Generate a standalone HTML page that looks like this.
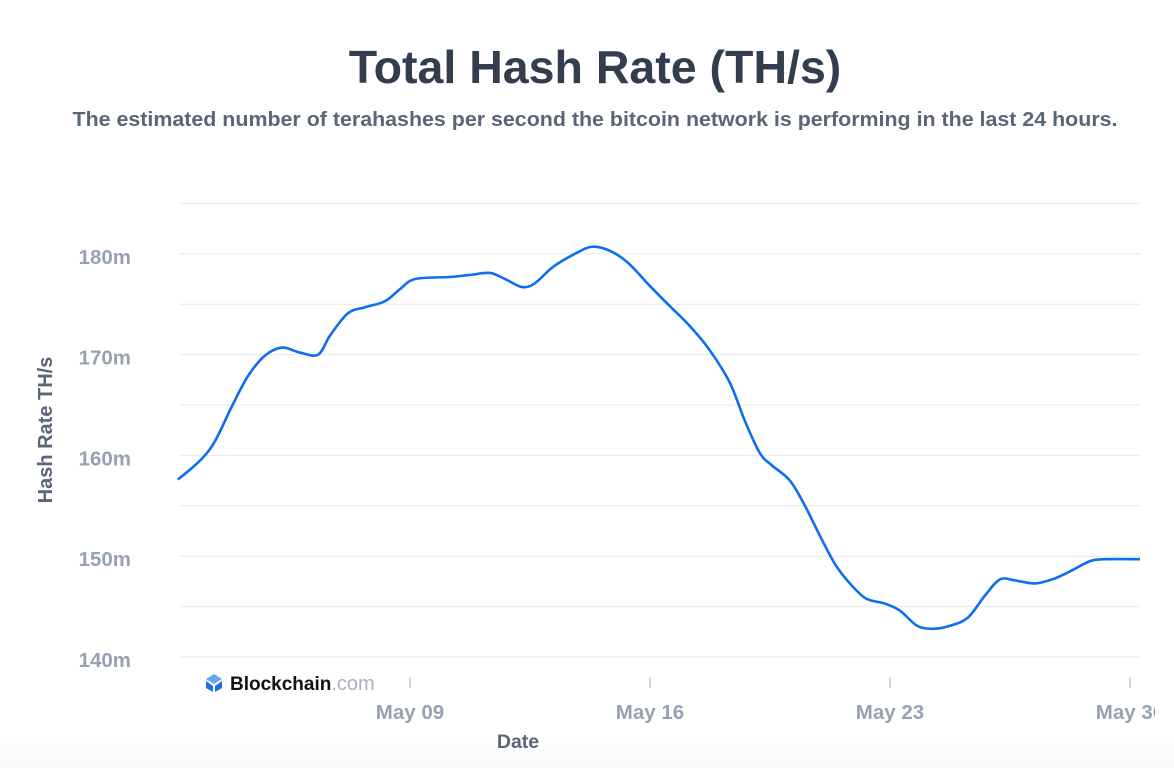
<!DOCTYPE html>
<html><head><meta charset="utf-8"><style>
html,body{margin:0;padding:0;background:#fff;width:1174px;height:768px;overflow:hidden}
body{font-family:"Liberation Sans",sans-serif;background:linear-gradient(#fff 0,#fff 738px,#f6f7f9 768px)}
svg{position:absolute;left:0;top:0}
</style></head><body>
<svg width="1174" height="768">
<defs><clipPath id="cl"><rect x="0" y="0" width="1155" height="768"/></clipPath></defs>
<text x="595" y="83" text-anchor="middle" font-size="46.5" font-weight="bold" fill="#333d50">Total Hash Rate (TH/s)</text>
<text x="595" y="126" text-anchor="middle" font-size="20" font-weight="bold" fill="#5b6578" textLength="1045" lengthAdjust="spacingAndGlyphs">The estimated number of terahashes per second the bitcoin network is performing in the last 24 hours.</text>
<g id="grid"></g>
<g id="yt"></g>
<g id="xt" clip-path="url(#cl)"></g>
<text transform="translate(52,430) rotate(-90)" text-anchor="middle" font-size="20" font-weight="bold" fill="#5b6578">Hash Rate TH/s</text>
<text x="518" y="748" text-anchor="middle" font-size="19.5" font-weight="bold" fill="#5b6578">Date</text>
<g>
<polygon points="214,674 222,679 214,684 206,679" fill="#6aa5f5"/>
<polygon points="206,681 213,686 213,692 206,688" fill="#1f6fe8"/>
<polygon points="222,681 215,686 215,692 222,688" fill="#1f6fe8"/>
<text x="230" y="690" font-size="19" font-weight="bold" fill="#121212">Blockchain<tspan fill="#a8b0c0" font-weight="normal" font-size="20">.com</tspan></text>
</g>
<path id="line" fill="none" stroke="#0d6ef0" stroke-width="2.6" stroke-linejoin="round"/>
</svg>
<script>
const days=[2.23,2.88,3.31,3.81,4.28,4.77,5.27,5.79,6.32,6.67,7.19,7.69,8.27,8.71,9.15,10.17,10.75,11.33,11.77,12.27,12.65,13.17,13.81,14.31,14.83,15.36,16,16.58,17.17,17.75,18.33,18.77,19.21,19.56,20.08,20.52,20.96,21.4,21.83,22.3,22.85,23.29,23.79,24.25,24.75,25.27,25.77,26.21,26.65,27.23,27.81,28.31,28.83,29.27,30.29];
const values=[157.6,159.5,161.4,164.9,167.9,169.9,170.7,170.2,170.0,171.9,174.1,174.7,175.3,176.5,177.5,177.7,177.9,178.1,177.5,176.7,177.1,178.7,180,180.7,180.3,179.1,176.8,174.8,172.8,170.4,167.2,163.4,160.2,159.0,157.5,155.0,152.0,149.2,147.3,145.8,145.3,144.6,143.1,142.8,143.1,143.9,146.1,147.7,147.6,147.3,147.8,148.6,149.5,149.7,149.7];
const yTicks=[140,150,160,170,180];
const yTickLabels=["140m","150m","160m","170m","180m"];
const xTicks=[9,16,23,30];
const xTickLabels=["May 09","May 16","May 23","May 30"];
const X=d=>410+(d-9)*240/7;
const Y=v=>657-(v-140)*10.08;
const NS="http://www.w3.org/2000/svg";
const grid=document.getElementById('grid');
for(let v=140;v<=185;v+=5){
 const l=document.createElementNS(NS,'line');
 l.setAttribute('x1',180);l.setAttribute('x2',1140);l.setAttribute('y1',Y(v));l.setAttribute('y2',Y(v));
 l.setAttribute('stroke','#e6e9ee');l.setAttribute('stroke-width',1);
 
 
 grid.appendChild(l);
}
const yt=document.getElementById('yt');
yTicks.forEach((v,i)=>{
 const t=document.createElementNS(NS,'text');
 t.setAttribute('x',131);t.setAttribute('y',Y(v)+10);t.setAttribute('text-anchor','end');
 t.setAttribute('font-size',20.5);t.setAttribute('font-weight','bold');t.setAttribute('fill','#98a1b3');
 t.textContent=yTickLabels[i];
 
 
 yt.appendChild(t);
});
const xt=document.getElementById('xt');
xTicks.forEach((d,i)=>{
 const l=document.createElementNS(NS,'line');
 l.setAttribute('x1',X(d));l.setAttribute('x2',X(d));l.setAttribute('y1',677);l.setAttribute('y2',688);
 l.setAttribute('stroke','#c4cad4');l.setAttribute('stroke-width',1.5);
 
 
 xt.appendChild(l);
 const t=document.createElementNS(NS,'text');
 t.setAttribute('x',X(d));t.setAttribute('y',719);t.setAttribute('text-anchor','middle');
 t.setAttribute('font-size',20.5);t.setAttribute('font-weight','bold');t.setAttribute('fill','#98a1b3');
 t.textContent=xTickLabels[i];
 
 
 xt.appendChild(t);
});
const pts=days.map((d,i)=>[X(d),Y(values[i])]);
let p='M'+pts[0][0]+','+pts[0][1];
for(let i=0;i<pts.length-1;i++){
 const p0=pts[Math.max(0,i-1)],p1=pts[i],p2=pts[i+1],p3=pts[Math.min(pts.length-1,i+2)];
 const c1=[p1[0]+(p2[0]-p0[0])/6,p1[1]+(p2[1]-p0[1])/6];
 const c2=[p2[0]-(p3[0]-p1[0])/6,p2[1]-(p3[1]-p1[1])/6];
 p+=`C${c1[0]},${c1[1]} ${c2[0]},${c2[1]} ${p2[0]},${p2[1]}`;
}
document.getElementById('line').setAttribute('d',p);
</script>
</body></html>
